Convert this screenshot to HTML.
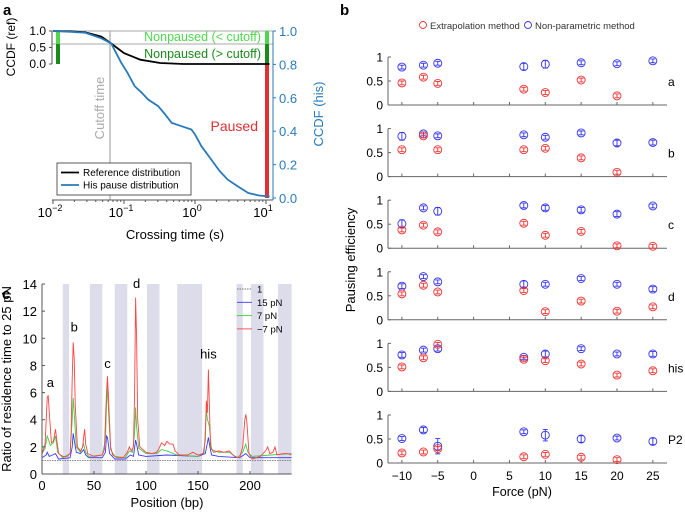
<!DOCTYPE html>
<html><head><meta charset="utf-8">
<style>
html,body{margin:0;padding:0;background:#fff}
svg{display:block;font-family:"Liberation Sans",Arial,sans-serif}
</style></head>
<body>
<svg id="fig" width="685" height="512" viewBox="0 0 685 512" xmlns="http://www.w3.org/2000/svg">
<g id="pa"></g>
<g id="pb"></g>
<g id="pc"></g>
</svg>
<script>
// ---------- Panel a data ----------
const refLogT = [-2, -1.75, -1.55, -1.32, -1.18, -1.0, -0.77, -0.49, -0.16, 1.05];
const refCCDF = [1, 0.99, 0.96, 0.83, 0.62, 0.33, 0.13, 0.03, 0, 0];
const hisLogT = [-2, -1.75, -1.55, -1.32, -1.18, -1.1, -1.04, -0.95, -0.85, -0.75, -0.66, -0.52, -0.42, -0.33, -0.19, -0.05, 0.0, 0.09, 0.16, 0.23, 0.35, 0.46, 0.6, 0.75, 0.9, 1.03];
const hisCCDF = [1, 0.995, 0.99, 0.956, 0.926, 0.86, 0.81, 0.75, 0.67, 0.63, 0.59, 0.55, 0.50, 0.45, 0.43, 0.41, 0.38, 0.31, 0.27, 0.23, 0.16, 0.11, 0.07, 0.03, 0.015, 0.01];
const aRefTicks = [0, 0.5, 1];
const aHisTicks = [0, 0.2, 0.4, 0.6, 0.8, 1];
const aXTicks = [-2, -1, 0, 1];

// ---------- Panel b data ----------
const forces = [-10, -7, -5, 7, 10, 15, 20, 25];
const bXTicks = [-10, -5, 0, 5, 10, 15, 20, 25];
const sites = ["a", "b", "c", "d", "his", "P2"];
const extVals = [
 [0.46, 0.58, 0.45, 0.33, 0.26, 0.52, 0.19, null],
 [0.56, 0.85, 0.56, 0.56, 0.59, 0.39, 0.09, null],
 [0.38, 0.48, 0.34, 0.52, 0.27, 0.35, 0.05, 0.04],
 [0.54, 0.72, 0.58, 0.61, 0.17, 0.39, 0.18, 0.27],
 [0.51, 0.70, 0.98, 0.67, 0.64, 0.57, 0.34, 0.43],
 [0.21, 0.23, 0.30, 0.13, 0.18, 0.12, 0.07, null]];
const npVals = [
 [0.79, 0.83, 0.87, 0.80, 0.85, 0.88, 0.86, 0.92],
 [0.84, 0.89, 0.85, 0.87, 0.82, 0.91, 0.70, 0.71],
 [0.51, 0.84, 0.77, 0.89, 0.84, 0.80, 0.71, 0.88],
 [0.70, 0.90, 0.79, 0.74, 0.74, 0.86, 0.74, 0.64],
 [0.76, 0.86, 0.89, 0.71, 0.78, 0.89, 0.78, 0.78],
 [0.51, 0.69, 0.35, 0.65, 0.58, 0.50, 0.52, 0.45]];
const npErr = [
 [0.04, 0.04, 0.04, 0.07, 0.08, 0.04, 0.04, 0.04],
 [0.08, 0.04, 0.04, 0.04, 0.04, 0.04, 0.06, 0.05],
 [0.08, 0.04, 0.08, 0.05, 0.05, 0.05, 0.05, 0.04],
 [0.05, 0.04, 0.04, 0.07, 0.04, 0.04, 0.04, 0.05],
 [0.05, 0.04, 0.05, 0.04, 0.06, 0.04, 0.04, 0.05],
 [0.04, 0.05, 0.16, 0.04, 0.12, 0.07, 0.04, 0.07]];
const extErr = 0.04;
const bYTicks = [0, 0.5, 1];

// ---------- Panel c data ----------
const redPos = [0,3,5,6,7,9,11,13,14,16,20,24,27,28,29,30,31,32,34,37,39,41,42,44,50,58,60,62,63,64,66,68,72,78,82,84,86,88,89,90,91,92,94,100,106,110,112,115,118,120,123,126,128,132,140,145,150,155,157,158,159,160,161,162,165,170,175,180,185,190,193,195,196,197,199,202,210,215,217,219,222,224,226,232,236,240];
const redVal = [1.5,2.2,5.6,5.8,4.5,2.3,2.4,3.3,2.6,1.5,1.3,1.3,1.5,3,7,9.7,8.5,5,2,1.7,2,3.3,2.2,1.5,1.3,1.4,1.8,6,7.2,5.5,2,1.4,1.2,1.2,1.6,2,1.7,2,6,13,10,4,2,1.6,1.5,1.6,1.8,2.3,2.1,2.4,2.2,2.2,1.7,1.4,1.4,1.6,1.4,1.5,2.5,5.4,4.5,7.7,5,2,1.6,1.7,1.6,1.7,1.3,1.2,2,4,4.4,3.8,1.5,1.1,1.3,1.7,2,1.5,1.6,2,1.4,1.5,1.5,1.4];
const greenPos = [0,3,5,6,8,11,13,15,20,27,29,30,31,33,37,40,42,45,58,61,62,63,64,66,70,80,84,87,89,90,91,93,100,110,115,120,130,150,156,158,159,160,161,163,170,180,188,193,196,198,202,220,240];
const greenVal = [1.5,1.9,2.8,2.6,2.1,2.3,2.8,1.6,1.2,1.5,4,5.6,4.5,2,1.6,2.2,1.6,1.3,1.4,2.5,5,6.6,4.5,1.8,1.3,1.2,1.7,1.6,3,4.9,3.5,1.9,1.5,1.5,1.8,1.7,1.4,1.3,1.6,4.8,4,3.8,3.5,1.8,1.6,1.6,1.2,1.6,2.2,1.6,1.3,1.4,1.5];
const bluePos = [0,4,5,7,10,13,16,27,29,30,31,33,37,40,42,45,58,61,62,63,65,70,80,85,88,90,91,93,100,120,150,157,159,160,161,163,170,190,196,200,240];
const blueVal = [1.2,1.4,1.6,1.3,1.4,1.5,1.1,1.2,2,3,2.5,1.6,1.5,1.8,1.4,1.2,1.2,1.6,2.8,2.7,1.5,1.1,1.1,1.4,1.3,2.5,2.2,1.4,1.3,1.4,1.3,1.5,2.3,2.7,2.2,1.4,1.3,1.2,1.5,1.2,1.2];
const bandStart = [20, 46, 70, 101, 130, 187, 201, 227];
const bandEnd = [26, 58, 82, 113, 154, 193, 213, 240];
const peakNames = ["a", "b", "c", "d", "his"];
const peakPos = [8, 31, 63, 91, 160];
const peakVal = [6.4, 10.5, 7.8, 13.7, 8.5];
const cYTicks = [0, 2, 4, 6, 8, 10, 12, 14];
const cXTicks = [0, 50, 100, 150, 200];

const NS = "http://www.w3.org/2000/svg";
function mk(parent, tag, attrs, text) {
  const e = document.createElementNS(NS, tag);
  for (const k in attrs) e.setAttribute(k, attrs[k]);
  if (text !== undefined) e.textContent = text;
  parent.appendChild(e);
  return e;
}

// ================= PANEL A =================
(function(){
  const g = document.getElementById('pa');
  const x = v => 53 + (v + 2) * 71;
  const yRef = v => 64 - v * 33;
  const yHis = v => 198 - v * 167;
  const BLUE = "#2a7ab9";
  let t = mk(g, 'text', {x: 3, y: 15, 'font-size': 15, 'font-weight': 'bold'}, 'a');
  
  
  let l = mk(g, 'line', {x1: 52, x2: 273, y1: 31, y2: 31, stroke: '#aaa', 'stroke-width': 1});
   
  l = mk(g, 'line', {x1: 52, x2: 273, y1: 44, y2: 44, stroke: '#aaa', 'stroke-width': 1});
   
  l = mk(g, 'line', {x1: 110, x2: 110, y1: 31, y2: 200, stroke: '#aaa', 'stroke-width': 1.2});
   
  t = mk(g, 'text', {x: 0, y: 0, 'font-size': 13, fill: '#aaa', 'text-anchor': 'middle', transform: 'translate(104,108) rotate(-90)'}, 'Cutoff time');
   
  const bars = [[58,31,44,'#4cd94c','left-light-green-bar'],[58,44,64,'#1a8a1a','left-dark-green-bar'],[267,31,44,'#4cd94c','right-light-green-bar'],[267,44,64,'#1a8a1a','right-dark-green-bar'],[267,64,198,'#e03030','paused-bar']];
  bars.forEach(b => {
    const r = mk(g, 'rect', {x: b[0]-2, y: b[1], width: 4, height: b[2]-b[1], fill: b[3]});
     
  });
  t = mk(g, 'text', {x: 261, y: 41, 'font-size': 12.5, fill: '#4cd94c', 'text-anchor': 'end'}, 'Nonpaused (< cutoff)');
   
  t = mk(g, 'text', {x: 261, y: 58, 'font-size': 12.5, fill: '#1a8a1a', 'text-anchor': 'end'}, 'Nonpaused (> cutoff)');
   
  t = mk(g, 'text', {x: 258, y: 131, 'font-size': 14, fill: '#e03030', 'text-anchor': 'end'}, 'Paused');
   
  let d = refLogT.map((v,i)=>(i?'L':'M')+x(v).toFixed(1)+','+yRef(refCCDF[i]).toFixed(1)).join(' ');
  let p = mk(g, 'path', {d: d, fill: 'none', stroke: '#000', 'stroke-width': 1.8});
   
  d = hisLogT.map((v,i)=>(i?'L':'M')+x(v).toFixed(1)+','+yHis(hisCCDF[i]).toFixed(1)).join(' ');
  d += ' L'+x(1.05)+','+yHis(hisCCDF[hisCCDF.length-1]);
  p = mk(g, 'path', {d: d, fill: 'none', stroke: BLUE, 'stroke-width': 1.8});
   
  l = mk(g, 'line', {x1: 52, x2: 52, y1: yRef(1), y2: yRef(0), stroke: '#555'});
   
  aRefTicks.forEach(v => {
    const tk = mk(g, 'line', {x1: 49, x2: 52, y1: yRef(v), y2: yRef(v), stroke: '#555'});
     
    const tl = mk(g, 'text', {x: 46, y: yRef(v)+4, 'font-size': 12, 'text-anchor': 'end'}, v.toFixed(1));
     
  });
  t = mk(g, 'text', {x: 0, y: 0, 'font-size': 12, 'text-anchor': 'middle', transform: 'translate(15,47) rotate(-90)'}, 'CCDF (ref)');
   
  l = mk(g, 'line', {x1: 273, x2: 273, y1: 31, y2: 200, stroke: BLUE});
   
  aHisTicks.forEach(v => {
    const tk = mk(g, 'line', {x1: 273, x2: 276, y1: yHis(v), y2: yHis(v), stroke: BLUE});
     
    const tl = mk(g, 'text', {x: 279, y: yHis(v)+5, 'font-size': 13, fill: BLUE}, v.toFixed(1));
     
  });
  t = mk(g, 'text', {x: 0, y: 0, 'font-size': 13, fill: BLUE, 'text-anchor': 'middle', transform: 'translate(323,114) rotate(-90)'}, 'CCDF (his)');
   
  l = mk(g, 'line', {x1: 52, x2: 273, y1: 200, y2: 200, stroke: '#555'});
   
  for (let dec = -2; dec <= 1; dec++) {
    for (let m = 1; m <= 9; m++) {
      const lv = dec + Math.log10(m);
      if (lv > 1.08) break;
      const xx = x(lv);
      const tk = mk(g, 'line', {x1: xx, x2: xx, y1: 200, y2: m===1?204:202, stroke: '#555'});
       
    }
  }
  aXTicks.forEach(v => {
    const tl = mk(g, 'text', {x: x(v)-3, y: 217, 'font-size': 13, 'text-anchor': 'middle'});
     
    mk(tl, 'tspan', {}, '10');
    mk(tl, 'tspan', {dy: -6, 'font-size': 9}, v < 0 ? '\u2212' + (-v) : String(v));
  });
  t = mk(g, 'text', {x: 175, y: 239, 'font-size': 13, 'text-anchor': 'middle'}, 'Crossing time (s)');
   
  const lg = mk(g, 'g', {});
   
  mk(lg, 'rect', {x: 57, y: 163, width: 134, height: 32, fill: '#fff', stroke: '#333', 'stroke-width': 0.8});
  let e = mk(lg, 'line', {x1: 61, x2: 79, y1: 172.5, y2: 172.5, stroke: '#000', 'stroke-width': 1.8});
   
  mk(lg, 'text', {x: 83, y: 176, 'font-size': 10}, 'Reference distribution');
  e = mk(lg, 'line', {x1: 61, x2: 79, y1: 185, y2: 185, stroke: BLUE, 'stroke-width': 1.8});
   
  mk(lg, 'text', {x: 83, y: 188.5, 'font-size': 10}, 'His pause distribution');
})();

// ================= PANEL B =================
(function(){
  const g = document.getElementById('pb');
  const x = v => 473.6 + v * 7.17;
  const RED = '#ee3333', BL = '#3333ee';
  let t = mk(g, 'text', {x: 340, y: 15, 'font-size': 15, 'font-weight': 'bold'}, 'b');
   
  let c = mk(g, 'circle', {cx: 423, cy: 25, r: 3.5, fill: 'none', stroke: RED, 'stroke-width': 0.9});
   
  t = mk(g, 'text', {x: 430, y: 29, 'font-size': 9.5, fill: '#333'}, 'Extrapolation method');
   
  c = mk(g, 'circle', {cx: 528, cy: 25, r: 3.5, fill: 'none', stroke: BL, 'stroke-width': 0.9});
   
  t = mk(g, 'text', {x: 535, y: 29, 'font-size': 9.5, fill: '#333'}, 'Non-parametric method');
   

  sites.forEach((s, si) => {
    const top = 57 + si * 71.6;
    const y = v => top + 48 - v * 48;
    const sg = mk(g, 'g', {});
     
    let ax = mk(sg, 'line', {x1: 388, x2: 388, y1: y(1), y2: y(0), stroke: '#666'});
     
    ax = mk(sg, 'line', {x1: 388, x2: 667, y1: y(0), y2: y(0), stroke: '#666'});
     
    bYTicks.forEach(v => {
      const tk = mk(sg, 'line', {x1: 388, x2: 391, y1: y(v), y2: y(v), stroke: '#666'});
       
      const tl = mk(sg, 'text', {x: 383, y: y(v)+4.5, 'font-size': 12, 'text-anchor': 'end'}, String(v));
       
    });
    bXTicks.forEach(v => {
      const tk = mk(sg, 'line', {x1: x(v), x2: x(v), y1: y(0), y2: y(0)-3, stroke: '#666'});
       
    });
    const lab = mk(sg, 'text', {x: 668, y: y(0.5)+5, 'font-size': 12}, s);
     
    const draw = (v, err, col, name) => {
      const cx = x(forces[v.i]);
      const e = mk(sg, 'path', {d: `M${cx},${y(v.val-err)} L${cx},${y(v.val+err)} M${cx-2.5},${y(v.val-err)} L${cx+2.5},${y(v.val-err)} M${cx-2.5},${y(v.val+err)} L${cx+2.5},${y(v.val+err)}`, stroke: col, 'stroke-width': 0.9, fill: 'none'});
       
      const pt = mk(sg, 'circle', {cx: cx, cy: y(v.val), r: 4, fill: 'none', stroke: col, 'stroke-width': 0.9});
       
    };
    npVals[si].forEach((val, i) => { if (val !== null) draw({i, val}, npErr[si][i], BL, 'nonparametric'); });
    extVals[si].forEach((val, i) => { if (val !== null) draw({i, val}, extErr, RED, 'extrapolation'); });
  });
  const yb = 57 + 5*71.6 + 48;
  bXTicks.forEach(v => {
    const tl = mk(g, 'text', {x: x(v), y: yb + 17, 'font-size': 12, 'text-anchor': 'middle'}, v < 0 ? '\u2212' + (-v) : String(v));
     
  });
  t = mk(g, 'text', {x: 522, y: 496, 'font-size': 12.5, 'text-anchor': 'middle'}, 'Force (pN)');
   
  t = mk(g, 'text', {x: 0, y: 0, 'font-size': 13, 'text-anchor': 'middle', transform: 'translate(355,260) rotate(-90)'}, 'Pausing efficiency');
   
})();

// ================= PANEL C =================
(function(){
  const g = document.getElementById('pc');
  const x = v => 42 + v * 1.04;
  const y = v => 474 - v * 13.57;
  let t = mk(g, 'text', {x: 2, y: 299, 'font-size': 15, 'font-weight': 'bold'}, 'c');
   
  bandStart.forEach((s, i) => {
    const r = mk(g, 'rect', {x: x(s), y: y(14), width: x(bandEnd[i]) - x(s), height: y(0) - y(14), fill: '#dcdcea'});
     
  });
  let l = mk(g, 'line', {x1: x(0), x2: x(240), y1: y(1), y2: y(1), stroke: '#777', 'stroke-width': 0.8, 'stroke-dasharray': '1.5,1'});
   
  const series = [[bluePos, blueVal, '#3a3aff', 'line-15pn'], [greenPos, greenVal, '#44cc44', 'line-7pn'], [redPos, redVal, '#ff4444', 'line-minus7pn']];
  series.forEach(s => {
    const d = s[0].map((p,i)=>(i?'L':'M')+x(p).toFixed(1)+','+y(s[1][i]).toFixed(1)).join(' ');
    const p = mk(g, 'path', {d: d, fill: 'none', stroke: s[2], 'stroke-width': 0.9});
     
  });
  peakNames.forEach((n, i) => {
    const tl = mk(g, 'text', {x: x(peakPos[i]), y: y(peakVal[i]), 'font-size': 13, 'text-anchor': 'middle'}, n);
     
  });
  l = mk(g, 'line', {x1: 42, x2: 42, y1: y(14), y2: y(0), stroke: '#555'});
   
  l = mk(g, 'line', {x1: 42, x2: x(240), y1: y(0), y2: y(0), stroke: '#555'});
   
  cYTicks.forEach(v => {
    const tk = mk(g, 'line', {x1: 42, x2: 45, y1: y(v), y2: y(v), stroke: '#555'});
     
    const tl = mk(g, 'text', {x: 37, y: y(v)+5, 'font-size': 13, 'text-anchor': 'end'}, String(v));
     
  });
  cXTicks.forEach(v => {
    const tk = mk(g, 'line', {x1: x(v), x2: x(v), y1: y(0), y2: y(0)-3, stroke: '#555'});
     
    const tl = mk(g, 'text', {x: x(v), y: 490, 'font-size': 13, 'text-anchor': 'middle'}, String(v));
     
  });
  t = mk(g, 'text', {x: 167, y: 507, 'font-size': 13, 'text-anchor': 'middle'}, 'Position (bp)');
   
  t = mk(g, 'text', {x: 0, y: 0, 'font-size': 13, 'text-anchor': 'middle', transform: 'translate(11,379) rotate(-90)'}, 'Ratio of residence time to 25 pN');
   
  const leg = [['1', '#777', '1.5,1'], ['15 pN', '#3a3aff', ''], ['7 pN', '#44cc44', ''], ['\u22127 pN', '#ff4444', '']];
  leg.forEach((e, i) => {
    const yy = 289 + i * 13.3;
    const ln = mk(g, 'line', {x1: 237, x2: 252, y1: yy, y2: yy, stroke: e[1], 'stroke-width': 0.9, 'stroke-dasharray': e[2] || 'none'});
     
    const tl = mk(g, 'text', {x: 257, y: yy + 3.5, 'font-size': 9.5}, e[0]);
     
  });
})();
</script>
</body></html>
